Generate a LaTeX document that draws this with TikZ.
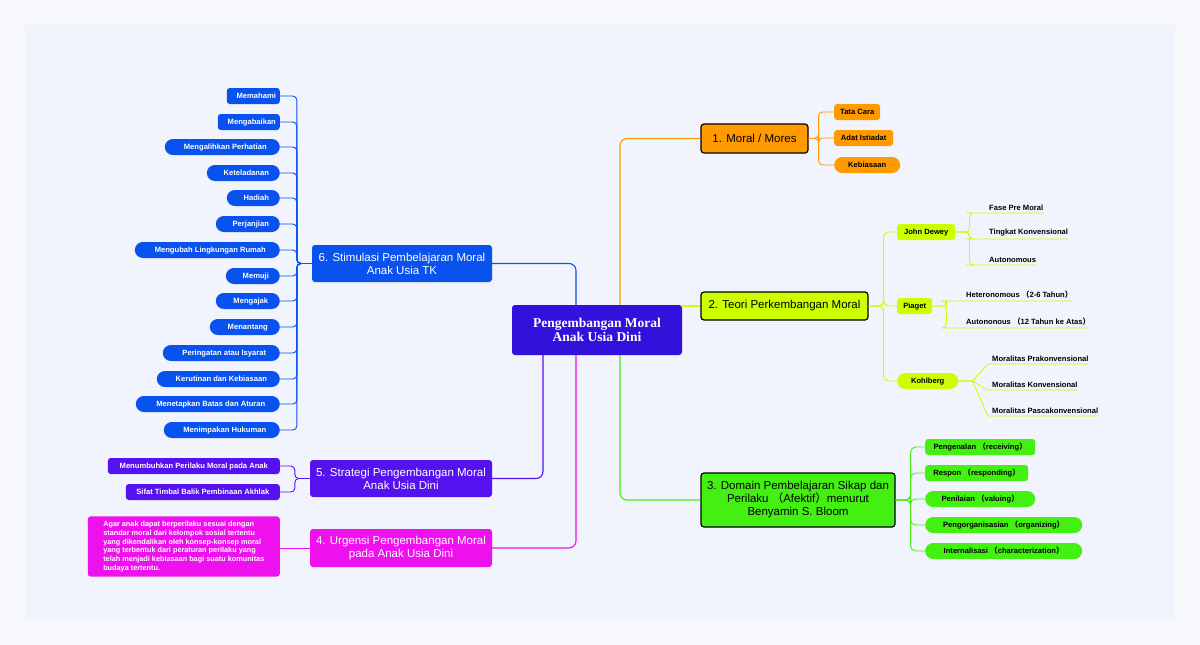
\documentclass[tikz,border=0pt]{standalone}
\usepackage{fontspec}
\setmainfont{Liberation Sans}
\newfontfamily\serifb{Liberation Serif}
\newfontfamily\cjk{Noto Sans CJK SC}
\newcommand{\lpar}{{\cjk （}}
\newcommand{\rpar}{{\cjk ）}}
\begin{document}
\begin{tikzpicture}[x=1pt,y=-1pt,
  leaf/.style={rounded corners=3, inner sep=0, minimum height=16, text height=6, text depth=1.5, font=\bfseries\fontsize{7.6}{9}\selectfont},
  pill/.style={leaf, rounded corners=8},
  br/.style={rounded corners=3, inner sep=2, font=\fontsize{11.5}{13}\selectfont, align=center},
  ul/.style={inner xsep=0, inner ysep=2.5, anchor=south west, font=\bfseries\fontsize{7.6}{9}\selectfont},
  conn/.style={line width=1.1, rounded corners=7}]
\definecolor{bgp}{HTML}{F1F4FC}
\definecolor{cen}{HTML}{3311DD}
\definecolor{org}{HTML}{FF9A00}
\definecolor{lim}{HTML}{CCFF00}
\definecolor{grn}{HTML}{44F011}
\definecolor{mag}{HTML}{EE11EE}
\definecolor{vio}{HTML}{5511EE}
\definecolor{blu}{HTML}{0A52EE}
\useasboundingbox (0,0) rectangle (1200,645);
\fill[white!50!bgp] (0,0) rectangle (1200,645);
\fill[bgp] (25,25) rectangle (1175,620);
% central
\node[fill=cen, rounded corners=3, minimum width=170, minimum height=50, text=white, align=center, font=\serifb\bfseries\fontsize{13.5}{14.5}\selectfont] (c) at (597,330) {Pengembangan Moral\\Anak Usia Dini};
% branch 1
\node[br, fill=org, draw=black, line width=1.2, minimum width=107, minimum height=29] (b1) at (754.5,138.5) {1. Moral / Mores};
\node[leaf, fill=org, minimum width=46, anchor=west] (o1) at (834,112) {Tata Cara};
\node[leaf, fill=org, minimum width=59, anchor=west] (o2) at (834,138) {Adat Istiadat};
\node[pill, fill=org, minimum width=66, anchor=west] (o3) at (834,165) {Kebiasaan};
\draw[conn, org] ([xshift=23]c.north) |- (b1.west);
\foreach \n in {o1,o2,o3} \draw[conn, org, line width=0.9, rounded corners=4] (b1.east) -- ++(10,0) |- (\n.west);
% branch 2
\node[br, fill=lim, draw=black, line width=1.2, minimum width=167, minimum height=28] (b2) at (784.5,306) {2. Teori Perkembangan Moral};
\draw[conn, lim] (c.east |- b2.west) -- (b2.west);
\node[leaf, fill=lim, minimum width=58, anchor=west] (jd) at (897,232) {John Dewey};
\node[leaf, fill=lim, minimum width=35, anchor=west] (pg) at (897,306) {Piaget};
\node[pill, fill=lim, minimum width=61, anchor=west] (kb) at (897,381) {Kohlberg};
\foreach \n in {jd,pg,kb} \draw[conn, lim, line width=0.9, rounded corners=5] (b2.east) -- ++(15,0) |- (\n.west);
\node[ul] (d1) at (970,213) {\hspace{19pt}Fase Pre Moral\hspace{8pt}};
\node[ul] (d2) at (970,239) {\hspace{19pt}Tingkat Konvensional\hspace{4pt}};
\node[ul] (d3) at (970,265) {\hspace{19pt}Autonomous\hspace{6pt}};
\foreach \n in {d1,d2,d3} \draw[lim, line width=0.8, rounded corners=4] (jd.east) -- ++(14,0) |- (\n.south west) -- (\n.south east);
\node[ul] (p1) at (946,301) {\hspace{20pt}Heteronomous \lpar 2-6 Tahun\rpar\hspace{4pt}};
\node[ul] (p2) at (946,328) {\hspace{20pt}Autononous \lpar 12 Tahun ke Atas\rpar\hspace{4pt}};
\foreach \n in {p1,p2} \draw[lim, line width=0.8, rounded corners=4] (pg.east) -- ++(14,0) |- (\n.south west) -- (\n.south east);
\node[ul] (k1) at (988,364) {\hspace{4pt}Moralitas Prakonvensional\hspace{4pt}};
\node[ul] (k2) at (988,390) {\hspace{4pt}Moralitas Konvensional\hspace{4pt}};
\node[ul] (k3) at (988,416) {\hspace{4pt}Moralitas Pascakonvensional\hspace{4pt}};
\foreach \n in {k1,k2,k3} \draw[lim, line width=0.8] (kb.east) -- ++(14,0) -- (\n.south west) -- (\n.south east);
% branch 3
\node[br, fill=grn, draw=black, line width=1.2, minimum width=194, minimum height=54] (b3) at (798,500) {3. Domain Pembelajaran Sikap dan\\Perilaku \lpar Afektif\rpar menurut\\Benyamin S. Bloom};
\draw[conn, grn] ([xshift=23]c.south) |- (b3.west);
\node[leaf, fill=grn, minimum width=110, anchor=west] (g1) at (925,447) {Pengenalan \lpar receiving\rpar};
\node[leaf, fill=grn, minimum width=103, anchor=west] (g2) at (925,473) {Respon \lpar responding\rpar};
\node[pill, fill=grn, minimum width=110, anchor=west] (g3) at (925,499) {Penilaian \lpar valuing\rpar};
\node[pill, fill=grn, minimum width=157, anchor=west] (g4) at (925,525) {Pengorganisasian \lpar organizing\rpar};
\node[pill, fill=grn, minimum width=157, anchor=west] (g5) at (925,551) {Internalisasi \lpar characterization\rpar};
\foreach \n in {g1,g2,g3,g4,g5} \draw[conn, grn, line width=0.9, rounded corners=5] (b3.east) -- ++(15,0) |- (\n.west);
% branch 4
\node[br, fill=mag, text=white, minimum width=182, minimum height=38] (b4) at (401,548) {4. Urgensi Pengembangan Moral\\pada Anak Usia Dini};
\draw[conn, mag] ([xshift=-21]c.south) |- (b4.east);
\node[fill=mag, text=white, rounded corners=3, minimum width=192, inner sep=5, align=left, font=\bfseries\fontsize{7.3}{8.7}\selectfont, anchor=east] (u1) at (280,546.5) {Agar anak dapat berperilaku sesuai dengan\\standar moral dari kelompok sosial tertentu\\yang dikendalikan oleh konsep-konsep moral\\yang terbentuk dari peraturan perilaku yang\\telah menjadi kebiasaan bagi suatu komunitas\\budaya tertentu.};
\draw[mag, line width=0.9] (b4.west) -- (u1.east |- b4.west);
% branch 5
\node[br, fill=vio, text=white, minimum width=182, minimum height=37] (b5) at (401,478.5) {5. Strategi Pengembangan Moral\\Anak Usia Dini};
\draw[conn, vio] ([xshift=-54]c.south) |- (b5.east);
\node[leaf, fill=vio, text=white, minimum width=172, anchor=east] (v1) at (280,466) {Menumbuhkan Perilaku Moral pada Anak};
\node[leaf, fill=vio, text=white, minimum width=154, anchor=east] (v2) at (280,492) {Sifat Timbal Balik Pembinaan Akhlak};
\foreach \n in {v1,v2} \draw[conn, vio, line width=0.9, rounded corners=4] (b5.west) -- ++(-15,0) |- (\n.east);
% branch 6
\node[br, fill=blu, text=white, minimum width=180, minimum height=37] (b6) at (402,263.5) {6. Stimulasi Pembelajaran Moral\\Anak Usia TK};
\draw[conn, blu] ([xshift=-21]c.north) |- (b6.east);
\foreach \t/\y/\w/\s [count=\i] in {Memahami/96/53/leaf, Mengabaikan/122/62/leaf, Mengalihkan Perhatian/147/115/pill, Keteladanan/173/73/pill, Hadiah/198/53/pill, Perjanjian/224/64/pill, Mengubah Lingkungan Rumah/250/145/pill, Memuji/276/54/pill, Mengajak/301/64/pill, Menantang/327/70/pill, Peringatan atau Isyarat/353/117/pill, Kerutinan dan Kebiasaan/379/123/pill, Menetapkan Batas dan Aturan/404/144/pill, Menimpakan Hukuman/430/116/pill}{
  \node[\s, fill=blu, text=white, minimum width=\w, anchor=east] (s\i) at (280,\y) {\hspace{6pt}\t\hspace{\ifnum\i<3 0pt\else 4pt\fi}};
  \draw[conn, blu, line width=0.9, rounded corners=4] (b6.west) -- ++(-15,0) |- (s\i.east);
}
\end{tikzpicture}
\end{document}
